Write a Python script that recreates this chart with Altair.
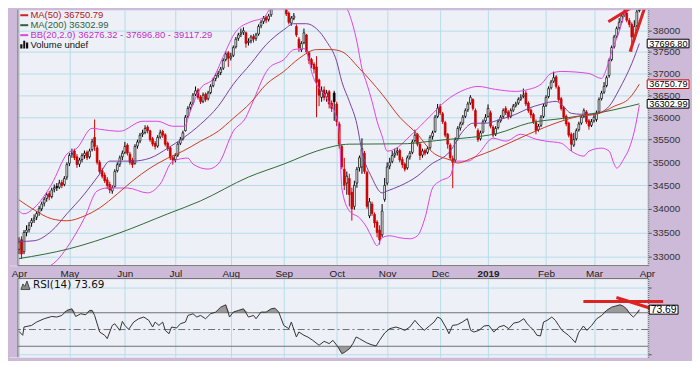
import altair as alt
import numpy as np
import pandas as pd

PURPLE = "#CDBAD9"
PANEL = "#EEF0F8"
GRID = "#B7DCE9"
FONT = "Liberation Sans"
UP, DOWN = "#000000", "#CC0000"

# ---------------- data ----------------
month_idx = [0, 20, 42, 62, 84, 105, 126, 146, 167, 186, 209, 228, 249]
month_lbl = ["Apr", "May", "Jun", "Jul", "Aug", "Sep", "Oct", "Nov", "Dec", "2019", "Feb", "Mar", "Apr"]

opens = [
    33150, 33350, 33100, 33500, 33560, 33700, 33760, 33820, 33920, 34000,
    34120, 34220, 34320, 34260, 34420, 34480, 34460, 34560, 34520, 34680,
    34980, 35180, 35250, 35120, 34960, 35060, 35150, 35220, 35120, 35280,
    35550, 35320, 35000, 34820, 34720, 34620, 34520, 34380, 34480, 34820,
    34960, 35120, 35220, 35380, 35180, 35050, 34980, 35360, 35470, 35620,
    35660, 35780, 35700, 35520, 35420, 35360, 35560, 35680, 35610, 35420,
    35320, 35100, 35060, 35160, 35420, 35520, 35700, 36020, 36220, 36320,
    36520, 36620, 36460, 36360, 36520, 36420, 36560, 36720, 36880, 36960,
    37020, 37120, 37320, 37480, 37360, 37420, 37620, 37820, 37920, 37960,
    37950, 37720, 37760, 37860, 37820, 37920, 38120, 38220, 38320, 38270,
    38380, 38580, 38780, 38860, 38720, 38680, 38560, 38420, 38180, 38300,
    38100, 37800, 37550, 37720, 37900, 37480, 37320, 37210, 37150, 36850,
    36450, 36620, 36460, 36580, 36320, 36550, 36300, 35850, 35350, 34850,
    34550, 34650, 34350, 34050, 34550, 34880, 34900, 35200, 34780, 33850,
    34100, 33880, 33720, 33550, 33450, 34200, 34550, 34920, 35020, 35160,
    35220, 35260, 35060, 34960, 34880, 35120, 35220, 35480, 35620, 35400,
    35160, 35260, 35220, 35320, 35570, 35680, 36020, 36250, 36080, 35880,
    35620, 35380, 35080, 35050, 35520, 35760, 35870, 36020, 36170, 36320,
    36400, 36150, 35700, 35520, 35670, 35920, 36020, 36100, 35780, 35620,
    35770, 35920, 36020, 36200, 36120, 36020, 36160, 36260, 36320, 36410,
    36470, 36550, 36320, 36160, 36060, 35880, 35720, 35820, 36020, 36270,
    36470, 36670, 36820, 36920, 36680, 36420, 36220, 36020, 35870, 35620,
    35380, 35520, 35720, 35870, 36020, 36120, 35920, 35820, 35920, 35950,
    36120, 36420, 36570, 36720, 36950, 37320, 37620, 37870, 38070, 38220,
    38370, 38420, 38240, 38150, 37800, 38120, 38480]
highs = [
    33400, 33420, 33550, 33650, 33720, 33800, 33880, 33950, 34060, 34150,
    34250, 34350, 34380, 34450, 34520, 34550, 34620, 34620, 34700, 35000,
    35200, 35300, 35300, 35180, 35100, 35200, 35260, 35260, 35300, 35520,
    35950, 35380, 35050, 34880, 34780, 34680, 34580, 34500, 34850, 35000,
    35150, 35260, 35450, 35420, 35230, 35100, 35400, 35500, 35650, 35720,
    35820, 35820, 35720, 35560, 35470, 35600, 35720, 35720, 35640, 35460,
    35350, 35150, 35200, 35450, 35560, 35700, 36050, 36250, 36350, 36550,
    36700, 36660, 36500, 36560, 36560, 36600, 36750, 36900, 37000, 37060,
    37150, 37350, 37520, 37520, 37480, 37650, 37850, 37950, 38050, 38080,
    37980, 37820, 37900, 37920, 37950, 38150, 38250, 38350, 38360, 38400,
    38600, 38800, 38950, 38900, 38760, 38720, 38600, 38460, 38350, 38420,
    38150, 37850, 37750, 38050, 37920, 37520, 37360, 37260, 37400, 36880,
    36700, 36700, 36620, 36620, 36380, 36600, 36350, 35900, 35400, 35100,
    34800, 34750, 34450, 34600, 34900, 35150, 35530, 35250, 34820, 34230,
    34150, 33920, 33760, 33650, 34100, 34660, 35000, 35100, 35250, 35300,
    35330, 35300, 35120, 35000, 35150, 35250, 35500, 35720, 35650, 35440,
    35300, 35300, 35350, 35600, 35700, 36050, 36300, 36300, 36120, 35920,
    35650, 35420, 35150, 35550, 35800, 35900, 36050, 36200, 36350, 36500,
    36430, 36200, 35750, 35700, 35950, 36070, 36290, 36150, 35820, 35800,
    35950, 36050, 36200, 36250, 36160, 36200, 36300, 36350, 36450, 36520,
    36650, 36600, 36360, 36200, 36100, 35950, 35850, 36050, 36300, 36500,
    36700, 36850, 37040, 36960, 36720, 36460, 36260, 36060, 35900, 35660,
    35650, 35750, 35900, 36050, 36200, 36160, 35960, 35960, 36100, 36150,
    36450, 36600, 36800, 36950, 37350, 37650, 37900, 38100, 38300, 38400,
    38520, 38460, 38300, 38200, 38250, 38500, 38750]
lows = [
    33050, 32950, 33050, 33420, 33500, 33620, 33700, 33760, 33850, 33950,
    34050, 34150, 34180, 34220, 34350, 34380, 34420, 34440, 34480, 34620,
    34920, 35100, 35050, 34880, 34900, 35000, 35080, 35050, 35080, 35240,
    35250, 34950, 34750, 34650, 34550, 34420, 34330, 34320, 34450, 34780,
    34900, 35050, 35180, 35150, 34950, 34880, 34950, 35300, 35420, 35560,
    35620, 35640, 35450, 35350, 35280, 35320, 35520, 35540, 35350, 35250,
    35050, 34950, 35000, 35120, 35380, 35480, 35680, 35980, 36150, 36280,
    36480, 36400, 36300, 36320, 36350, 36380, 36520, 36680, 36820, 36900,
    36960, 37080, 37280, 37150, 37300, 37380, 37580, 37760, 37850, 37900,
    37600, 37650, 37700, 37720, 37760, 37880, 38060, 38160, 38180, 38220,
    38330, 38540, 38720, 38650, 38600, 38500, 38350, 38150, 38120, 38250,
    37850, 37500, 37500, 37680, 37450, 37220, 37120, 37000, 36000, 36250,
    36350, 36380, 36350, 36200, 36120, 35920, 35800, 35300, 34850, 34400,
    34300, 34050, 33750, 33980, 34450, 34800, 34750, 34750, 34000, 33800,
    33850, 33600, 33400, 33250, 33400, 34150, 34500, 34850, 34980, 35100,
    35150, 35000, 34880, 34800, 34840, 35060, 35180, 35440, 35350, 35050,
    35100, 35150, 35180, 35280, 35500, 35650, 35980, 36050, 35850, 35550,
    35300, 35050, 34440, 35000, 35480, 35700, 35820, 35980, 36120, 36280,
    36150, 35750, 35450, 35480, 35640, 35880, 35990, 35750, 35550, 35580,
    35730, 35880, 35980, 36050, 35950, 35980, 36120, 36220, 36280, 36370,
    36430, 36250, 36100, 35980, 35850, 35620, 35680, 35780, 35980, 36230,
    36430, 36630, 36780, 36650, 36350, 36150, 35950, 35800, 35550, 35250,
    35340, 35480, 35680, 35830, 35980, 35850, 35720, 35780, 35880, 35900,
    36080, 36380, 36530, 36680, 36900, 37280, 37580, 37830, 38020, 38180,
    38330, 38200, 38080, 37500, 37780, 38080, 38440]
closes = [
    33300, 33050, 33500, 33550, 33650, 33750, 33800, 33900, 34000, 34100,
    34200, 34300, 34250, 34400, 34450, 34450, 34550, 34500, 34650, 34950,
    35150, 35200, 35100, 34950, 35050, 35150, 35200, 35100, 35250, 35450,
    35350, 35000, 34800, 34700, 34600, 34500, 34400, 34450, 34800, 34950,
    35100, 35200, 35350, 35200, 35000, 34950, 35350, 35450, 35600, 35650,
    35750, 35700, 35500, 35400, 35350, 35550, 35650, 35600, 35400, 35300,
    35100, 35050, 35150, 35400, 35500, 35650, 36000, 36200, 36300, 36500,
    36600, 36450, 36350, 36500, 36400, 36550, 36700, 36850, 36950, 37000,
    37100, 37300, 37450, 37350, 37400, 37600, 37800, 37900, 37950, 38000,
    37700, 37750, 37850, 37800, 37900, 38100, 38200, 38300, 38250, 38350,
    38550, 38750, 38850, 38700, 38650, 38550, 38400, 38200, 38300, 38350,
    37900, 37600, 37700, 37950, 37500, 37300, 37200, 37100, 36800, 36500,
    36600, 36450, 36550, 36300, 36200, 36350, 35900, 35400, 34900, 34500,
    34700, 34300, 34000, 34500, 34850, 35100, 35300, 34800, 34050, 34150,
    33900, 33700, 33500, 33350, 33950, 34500, 34900, 35000, 35150, 35200,
    35250, 35050, 34950, 34850, 35100, 35200, 35450, 35600, 35400, 35150,
    35250, 35200, 35300, 35550, 35650, 36000, 36200, 36100, 35900, 35600,
    35400, 35100, 35000, 35500, 35750, 35850, 36000, 36150, 36300, 36450,
    36200, 35800, 35500, 35650, 35900, 36000, 36200, 35800, 35600, 35750,
    35900, 36000, 36150, 36100, 36000, 36150, 36250, 36300, 36400, 36450,
    36500, 36300, 36150, 36050, 35900, 35700, 35800, 36000, 36250, 36450,
    36650, 36800, 36900, 36700, 36400, 36200, 36000, 35850, 35600, 35400,
    35500, 35700, 35850, 36000, 36150, 35900, 35800, 35900, 36000, 36100,
    36400, 36550, 36700, 36900, 37300, 37600, 37850, 38050, 38200, 38350,
    38450, 38250, 38150, 37850, 38100, 38450, 38650]

ma200_i = [0, 20, 40, 59, 72, 91, 105, 118, 125, 131, 145, 154, 160, 171, 176, 190, 202, 216, 229, 242, 246]
ma200_v = [32957, 33162, 33493, 33892, 34167, 34680, 34962, 35246, 35356, 35400, 35405, 35410, 35444,
           35510, 35532, 35643, 35866, 35977, 36089, 36247, 36303]

ma50_i = [0, 6, 13, 19, 26, 32, 39, 45, 52, 59, 65, 72, 79, 85, 92, 98, 105, 111, 118, 124, 128, 135,
          144, 151, 158, 164, 171, 174, 180, 189, 202, 215, 222, 229, 236, 242, 246]
ma50_v = [34190, 33976, 33787, 33745, 33848, 34018, 34317, 34595, 34875, 35093, 35246, 35466, 35687,
          35977, 36337, 36746, 37044, 37344, 37554, 37554, 37507, 37114, 36520, 36000, 35620, 35220,
          35050, 34985, 35100, 35290, 35620, 35910, 36022, 36067, 36247, 36428, 36751]

bbm_i = [0, 6, 13, 19, 26, 32, 36, 45, 52, 59, 65, 72, 79, 85, 92, 98, 105, 109, 114, 118, 122, 126,
         128, 131, 134, 136, 140, 144, 146, 151, 158, 163, 171, 176, 180, 185, 191, 197, 202, 207, 213,
         215, 219, 223, 229, 234, 238, 243, 246]
bbm_v = [33310, 33327, 33535, 33892, 34316, 34745, 35027, 35027, 35093, 35312, 35532, 35843, 36247,
         36750, 37230, 37668, 38022, 38166, 38166, 38046, 37741, 37275, 36814, 36359, 35843, 35246,
         34659, 34338, 34380, 34487, 34702, 34940, 35246, 35687, 35866, 35866, 35955, 36067, 36200,
         36292, 36359, 36292, 36089, 36067, 36089, 36247, 36631, 37230, 37697]

bbu_i = [0, 2, 6, 13, 19, 23, 29, 32, 40, 49, 55, 61, 66, 67, 72, 77, 81, 86, 92, 97, 101, 105, 110,
         116, 123, 127, 130, 132, 134, 136, 138, 140, 142, 144, 146, 149, 155, 163, 169, 177, 182, 189,
         197, 202, 207, 211, 215, 226, 231, 233, 235, 238, 240, 242, 246]
bbu_v = [33955, 33892, 34018, 34530, 35180, 35312, 35753, 35731, 35687, 35910, 35910, 35798, 35798,
         35977, 36654, 36883, 37392, 37977, 38214, 38310, 38692, 38900, 39000, 38900, 38643, 38643,
         38524, 38214, 37741, 37114, 36750, 36359, 35910, 35576, 35246, 35290, 35576, 36022, 36359,
         36631, 36700, 36631, 36586, 36631, 36750, 36998, 37044, 36998, 36883, 37114, 37507, 37977,
         38380, 38692, 39117]

bbl_i = [0, 10, 15, 19, 26, 31, 35, 43, 51, 56, 61, 67, 69, 75, 79, 85, 90, 92, 99, 105, 109, 113,
         115, 116, 122, 126, 127, 128, 131, 135, 138, 140, 142, 144, 147, 151, 155, 158, 161, 164, 167,
         171, 173, 178, 182, 188, 193, 199, 205, 209, 215, 219, 224, 226, 231, 234, 236, 237, 240, 242,
         244, 246]
bbl_v = [32650, 32750, 32916, 33182, 33808, 34380, 34444, 34444, 34338, 34530, 35027, 35093, 34962,
         34853, 34962, 35687, 36000, 36250, 37114, 37320, 37554, 37577, 37320, 37044, 36426, 35977,
         35687, 34444, 33955, 33808, 33598, 33389, 33224, 33389, 33431, 33389, 33368, 33431, 33808,
         34444, 34595, 34702, 35027, 35027, 35180, 35532, 35466, 35620, 35510, 35466, 35422, 35246,
         35136, 35246, 35312, 35246, 34962, 34875, 35093, 35312, 35687, 36276]

rsi_i = [0, 1.5, 2, 5, 7, 10, 13, 15, 17, 19, 21, 22.5, 24.5, 26.5, 28, 29, 30, 32, 34, 35, 37, 38, 40,
         41, 42, 43.5, 45.5, 47.5, 49.5, 51.5, 53, 54, 55.5, 57, 58, 59.5, 60.5, 62.5, 64, 66, 67, 69,
         70.5, 72, 74, 76, 78, 80, 82, 83.5, 85, 87, 89, 91, 93, 94, 96, 98, 100, 101.5, 103, 105, 107,
         108, 110, 111, 113, 114.5, 116.5, 119, 121, 123, 124.5, 126.5, 128, 129, 131, 132.4, 133.7,
         135, 137.7, 139.6, 141.6, 143, 145, 147, 149.5, 151.5, 153, 155, 157, 158.7, 160.7, 162.7,
         164.6, 166, 167.3, 169.2, 170.5, 171.9, 173.8, 175.8, 177.8, 179.1, 180.4, 182.4, 184.4,
         186.3, 188.3, 190.3, 192.3, 194.2, 196.2, 198.2, 200.2, 201.5, 202.8, 204.1, 205.4, 206.8,
         208, 209.4, 211.3, 212.7, 214, 215.3, 217.9, 219.2, 220.6, 221.9, 223.8, 225.2, 227.1, 229.1,
         231.1, 233, 235, 236.4, 238.3, 239.6, 240.9, 242.2, 243.6, 244.9, 246]
rsi_v = [47.8, 43.1, 53.0, 54.9, 58.9, 62.9, 65.6, 64.9, 66.8, 72.8, 74.7, 65.6, 68.8, 67.6, 72.8, 72.8,
         66.8, 47.0, 43.1, 39.1, 54.9, 56.9, 49.0, 59.7, 54.9, 50.2, 58.9, 62.9, 64.9, 60.9, 53.0, 58.9,
         54.9, 58.9, 49.0, 45.0, 53.0, 51.8, 56.9, 58.9, 66.8, 68.8, 64.9, 66.8, 62.9, 68.8, 70.8, 76.7,
         79.5, 64.9, 70.8, 72.8, 74.7, 64.9, 66.8, 62.9, 70.8, 70.8, 74.7, 75.5, 70.8, 54.9, 51.0, 58.9,
         41.1, 47.0, 43.1, 41.1, 37.1, 31.2, 35.9, 33.2, 37.1, 29.2, 21.3, 22.5, 27.0, 33.2, 41.1, 39.1,
         34.4, 32.0, 30.4, 37.1, 45.8, 51.0, 53.0, 51.0, 49.0, 53.0, 60.9, 54.9, 49.0, 54.2, 58.9, 64.9,
         62.9, 53.0, 45.0, 54.9, 55.7, 58.9, 62.9, 49.0, 47.0, 49.0, 54.2, 54.9, 47.0, 53.0, 54.9, 51.0,
         57.7, 58.9, 62.9, 56.9, 53.0, 49.0, 43.1, 42.3, 58.9, 60.9, 64.9, 60.9, 54.9, 49.0, 43.1, 39.1,
         34.4, 46.2, 54.2, 49.0, 54.9, 62.9, 66.8, 72.8, 76.7, 77.9, 79.5, 77.9, 74.7, 68.8, 64.9, 68.8,
         73.7]

ma50_last, ma200_last = 36750.79, 36302.99
bb_low_last, bb_mid_last, bb_up_last = 36276.32, 37696.80, 39117.29
rsi_last = 73.69

price_ticks = [33000, 33500, 34000, 34500, 35000, 35500, 36000, 36500, 37000, 37500, 38000]
rsi_ticks = [20, 30, 40, 50, 60, 70, 80, 90, 100]
rsi_bands = [30, 70]

# hand-drawn red trend lines (index, value)
tr_main_id = ["a", "a", "b", "b"]
tr_main_i = [233.7, 243.0, 242.3, 248.9]
tr_main_v = [38214, 38560, 37507, 38692]
tr_rsi_id = ["h", "h", "d", "d"]
tr_rsi_i = [223.8, 255.4, 236.9, 250.7]
tr_rsi_v = [83.5, 83.5, 88.2, 75.1]

# ---------------- tables ----------------
cdf = pd.DataFrame({"i": np.arange(len(closes)), "o": opens, "h": highs, "l": lows, "c": closes})
prev = cdf["c"].shift(1).fillna(cdf["o"])
cdf["dir"] = np.where(cdf["c"] >= prev, "up", "down")
cdf["hollow"] = cdf["c"] > cdf["o"]

one = pd.DataFrame({"k": [0]})

X0, X1, EDGE = -3.95, 249.5, -0.4
PMIN, PMAX = 32813, 38500
RMIN, RMAX = 16.9, 110.8

xs = alt.Scale(domain=[X0, X1], nice=False, zero=False, padding=0)
ys = alt.Scale(type="log", domain=[PMIN, PMAX], nice=False, padding=0)
rs = alt.Scale(domain=[RMIN, RMAX], nice=False, zero=False, padding=0)
dir_scale = alt.Scale(domain=["up", "down"], range=[UP, DOWN])

lab_expr = "[%s][indexof([%s], datum.value)]" % (
    ",".join("'%s'" % m for m in month_lbl), ",".join(str(v) for v in month_idx))

x_axis_main = alt.Axis(values=month_idx, labelExpr=lab_expr, title=None, grid=True, gridColor=GRID,
                       ticks=False, domain=False, labelFlush=False, labelOverlap=False, labelPadding=3,
                       labelFont=FONT, labelFontSize=10, labelColor="#222222",
                       labelFontWeight={"condition": {"test": "datum.value == 186", "value": "bold"},
                                        "value": "normal"})
y_axis_main = alt.Axis(orient="right", values=price_ticks, format="d", title=None, grid=True,
                       gridColor=GRID, domain=True, domainColor="#555555", domainDash=[1, 1],
                       ticks=True, tickSize=3, tickColor="#555555", labelPadding=1,
                       labelFont=FONT, labelFontSize=10, labelColor="#333333")
x_axis_rsi = alt.Axis(values=month_idx, title=None, grid=True, gridColor=GRID, labels=False,
                      ticks=False, domain=False)
y_axis_rsi = alt.Axis(orient="right", values=rsi_ticks, title=None, grid=True, gridColor=GRID,
                      labelExpr="datum.value % 20 == 10 ? datum.label : ''",
                      domain=True, domainColor="#555555", domainDash=[1, 1], ticks=True, tickSize=3,
                      tickColor="#555555", labelPadding=1, labelFont=FONT, labelFontSize=10,
                      labelColor="#333333")

NX = alt.X("i:Q")


def series(ix, vals, color):
    df = pd.DataFrame({"i": ix, "v": vals})
    return alt.Chart(df).mark_line(color=color, strokeWidth=1, clip=True, interpolate="monotone").encode(
        x=NX, y=alt.Y("v:Q"))


def ltext(txt, yv, color, size=9.5, xv=21.5, font=FONT):
    return alt.Chart(one).mark_text(text=txt, align="left", baseline="middle", font=font, fontSize=size,
                                    color=color).encode(x=alt.value(xv), y=alt.value(yv))


def ldash(yv, color):
    return alt.Chart(one).mark_rule(color=color, strokeWidth=2).encode(
        x=alt.value(11.3), x2=alt.value(19.3), y=alt.value(yv))


# ---------------- price panel ----------------
wick = alt.Chart(cdf).mark_rule(strokeWidth=1, clip=True).encode(
    x=alt.X("i:Q", scale=xs, axis=x_axis_main),
    y=alt.Y("l:Q", scale=ys, axis=y_axis_main),
    y2="h:Q",
    color=alt.Color("dir:N", scale=dir_scale, legend=None))
body = alt.Chart(cdf).mark_bar(width=1.8, strokeWidth=0.7, clip=True).encode(
    x=NX, y=alt.Y("o:Q"), y2="c:Q",
    stroke=alt.Stroke("dir:N", scale=dir_scale, legend=None),
    fill=alt.condition("datum.hollow", alt.value("#FFFFFF"), alt.Fill("dir:N", scale=dir_scale, legend=None)))

strip = alt.Chart(one).mark_rect(color=PURPLE).encode(x=alt.XDatum(X0), x2=alt.X2Datum(EDGE))
left_b = alt.Chart(one).mark_rule(color="#6E6E6E").encode(x=alt.XDatum(EDGE))
bottom_b = alt.Chart(one).mark_rule(color="#6E6E6E").encode(
    x=alt.XDatum(EDGE), x2=alt.X2Datum(X1), y=alt.YDatum(PMIN))

trend = alt.Chart(pd.DataFrame({"id": tr_main_id, "i": tr_main_i, "v": tr_main_v})).mark_line(
    color="#DD2222", strokeWidth=3, clip=True).encode(x=NX, y=alt.Y("v:Q"), detail="id:N")

VOL = "M-1,1V-0.1H-0.45V1ZM-0.25,1V-1H0.25V1ZM0.45,1V-0.5H1V1Z"
vol_icon = alt.Chart(one).mark_point(shape=VOL, size=64, filled=True, color="#111111", opacity=1).encode(
    x=alt.value(15.3), y=alt.value(35))

BOX = "M-1,-0.205H1V0.205H-1Z"
bdf = pd.DataFrame({"v": [bb_mid_last, ma50_last, ma200_last],
                    "label": ["%.2f" % bb_mid_last, "%.2f" % ma50_last, "%.2f" % ma200_last],
                    "key": ["mid", "ma50", "ma200"]})
box_scale = alt.Scale(domain=["mid", "ma50", "ma200"], range=["#8A4FB0", "#D9534F", "#3C8D3C"])
boxes = alt.Chart(bdf).mark_point(shape=BOX, size=1764, filled=True, fill="#FFFFFF", strokeWidth=1,
                                  opacity=1).encode(
    x=alt.value(662), y=alt.Y("v:Q"), stroke=alt.Stroke("key:N", scale=box_scale, legend=None))
box_txt = alt.Chart(bdf).mark_text(font=FONT, fontSize=9.2, color="#000000", align="center",
                                   baseline="middle").encode(
    x=alt.value(662.3), y=alt.Y("v:Q"), text="label:N")

main = alt.layer(
    wick, body,
    series(bbu_i, bbu_v, "#DD44DD"),
    series(bbl_i, bbl_v, "#DD44DD"),
    series(bbm_i, bbm_v, "#7B3FA0"),
    series(ma200_i, ma200_v, "#2E6B30"),
    series(ma50_i, ma50_v, "#CC3A22"),
    strip, left_b, bottom_b, trend,
    ldash(5.5, "#CC2222"), ltext("MA(50) %.2f" % ma50_last, 5.5, "#B01818"),
    ldash(15.5, "#2F5F3F"), ltext("MA(200) %.2f" % ma200_last, 15.5, "#2F5F3F"),
    ldash(25.5, "#DD44DD"),
    ltext("BB(20,2.0) %.2f - %.2f - %.2f" % (bb_low_last, bb_mid_last, bb_up_last), 25.5, "#C030C0"),
    vol_icon, ltext("Volume undef", 35, "#111111"),
    boxes, box_txt,
).properties(width=642, height=257)

# ---------------- RSI panel ----------------
rdf = pd.DataFrame({"i": rsi_i, "r": rsi_v})
hi_fill = alt.Chart(rdf).transform_calculate(t="max(datum.r, 70)").mark_area(
    color="#9A9A9A", clip=True).encode(
    x=alt.X("i:Q", scale=xs, axis=x_axis_rsi), y=alt.Y("t:Q", scale=rs, axis=y_axis_rsi),
    y2=alt.Y2Datum(70))
lo_fill = alt.Chart(rdf).transform_calculate(t="min(datum.r, 30)").mark_area(
    color="#9A9A9A", clip=True).encode(x=NX, y=alt.Y("t:Q"), y2=alt.Y2Datum(30))
bands = alt.Chart(pd.DataFrame({"lv": rsi_bands})).mark_rule(color="#707070").encode(y=alt.Y("lv:Q"))
midl = alt.Chart(pd.DataFrame({"lv": [50]})).mark_rule(color="#707070", strokeDash=[7, 3, 2, 3]).encode(
    y=alt.Y("lv:Q"))
rline = alt.Chart(rdf).mark_line(color="#333333", strokeWidth=1, clip=True).encode(x=NX, y=alt.Y("r:Q"))
top_b = alt.Chart(one).mark_rule(color="#6E6E6E").encode(
    x=alt.XDatum(EDGE), x2=alt.X2Datum(X1), y=alt.YDatum(RMAX))
rtrend = alt.Chart(pd.DataFrame({"id": tr_rsi_id, "i": tr_rsi_i, "v": tr_rsi_v})).mark_line(
    color="#DD2222", strokeWidth=3).encode(x=NX, y=alt.Y("v:Q"), detail="id:N")
MTN = "M-1,1L-0.55,-0.25L-0.15,0.3L0.35,-0.9L1,1Z"
rsi_icon = alt.Chart(one).mark_point(shape=MTN, size=81, filled=True, fill="#8A8A8A", stroke="#333333",
                                     strokeWidth=0.8, opacity=1).encode(x=alt.value(16.5), y=alt.value(6.5))
rsi_title = ltext("RSI(14) %.2f" % rsi_last, 6.8, "#111111", size=10.5, xv=24, font="DejaVu Sans")
RBOX = "M-1,-0.31H1V0.31H-1Z"
rb = pd.DataFrame({"v": [rsi_last], "label": ["%.2f" % rsi_last]})
rbox = alt.Chart(rb).mark_point(shape=RBOX, size=841, filled=True, fill="#FFFFFF", stroke="#000000",
                                strokeWidth=1, opacity=1).encode(x=alt.value(657.5), y=alt.Y("v:Q"))
rbox_txt = alt.Chart(rb).mark_text(font=FONT, fontSize=10.4, color="#000000", align="center",
                                   baseline="middle").encode(x=alt.value(657.5), y=alt.Y("v:Q"),
                                                             text="label:N")

rsi = alt.layer(
    hi_fill, lo_fill, bands, midl, rline, strip, left_b, top_b, rtrend,
    rsi_icon, rsi_title, rbox, rbox_txt,
).properties(width=642, height=79)

chart = alt.vconcat(
    main, rsi, spacing=13, bounds="flush",
    padding={"left": 0, "top": 0, "right": 0, "bottom": 0}, background=PURPLE,
).configure_view(fill=PANEL, stroke="transparent")

chart.save("out.html", embed_options={"renderer": "svg", "actions": False})
